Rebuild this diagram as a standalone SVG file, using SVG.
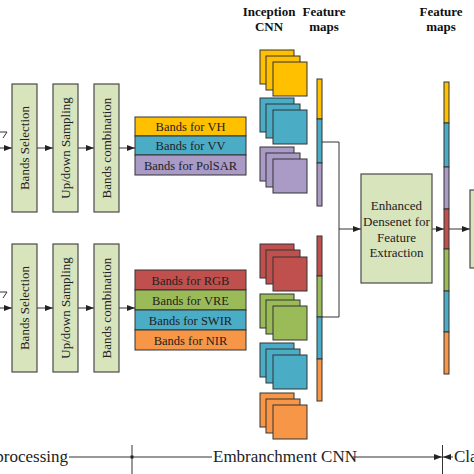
<svg xmlns="http://www.w3.org/2000/svg" width="474" height="474" viewBox="0 0 474 474">
<style>
.box{fill:#D8E4BC;stroke:#4a4a4a;stroke-width:1.2}
.t{font-family:"Liberation Serif","Times New Roman","DejaVu Serif",serif;fill:#222}
.h{font-family:"Liberation Serif","Times New Roman","DejaVu Serif",serif;font-weight:bold;font-size:13px;fill:#111;text-anchor:middle}
.c{stroke:#333;stroke-width:1;fill:none}
.sq{stroke:#333;stroke-width:1}
.y{fill:#FFC000}.b{fill:#4BACC6}.p{fill:#A99BC6}.r{fill:#C0504D}.g{fill:#9BBB59}.o{fill:#F79646}
</style>
<defs>
<marker id="ah" markerWidth="8" markerHeight="6" refX="8" refY="3" orient="auto" markerUnits="userSpaceOnUse">
<path d="M0,0 L8,3 L0,6 z" fill="#222"/>
</marker>
</defs>
<rect width="474" height="474" fill="#fff"/>

<g id="headers" font-family="Liberation Serif, Times New Roman, DejaVu Serif, serif">
<text class="h" x="269" y="16">Inception</text>
<text class="h" x="269" y="31">CNN</text>
<text class="h" x="324" y="16">Feature</text>
<text class="h" x="324" y="31">maps</text>
<text class="h" x="441" y="16">Feature</text>
<text class="h" x="441" y="31">maps</text>
</g>

<g id="connectors">
<path class="c" d="M0,132 L7,132 L3,138"/>
<path class="c" d="M0,292 L7,292 L3,298"/>
<line class="c" x1="0" y1="148" x2="12" y2="148" marker-end="url(#ah)"/>
<line class="c" x1="37" y1="148" x2="53" y2="148" marker-end="url(#ah)"/>
<line class="c" x1="78" y1="148" x2="94" y2="148" marker-end="url(#ah)"/>
<line class="c" x1="119" y1="148" x2="135" y2="148" marker-end="url(#ah)"/>
<line class="c" x1="0" y1="308" x2="12" y2="308" marker-end="url(#ah)"/>
<line class="c" x1="37" y1="308" x2="53" y2="308" marker-end="url(#ah)"/>
<line class="c" x1="78" y1="308" x2="94" y2="308" marker-end="url(#ah)"/>
<line class="c" x1="119" y1="308" x2="135" y2="308" marker-end="url(#ah)"/>
<path class="c" d="M322,142 H339 V317 H322"/>
<line class="c" x1="339" y1="229" x2="361" y2="229" marker-end="url(#ah)"/>
<line class="c" x1="432" y1="229" x2="444" y2="229" marker-end="url(#ah)"/>
<line class="c" x1="449" y1="229" x2="470" y2="229" marker-end="url(#ah)"/>
</g>

<g font-family="Liberation Serif, Times New Roman, DejaVu Serif, serif">
<g id="bands-selection-1"><rect class="box" x="12" y="84" width="25" height="128"/><text class="t" font-size="13" text-anchor="middle" transform="translate(29,148) rotate(-90)">Bands Selection</text></g>
<g id="updown-1"><rect class="box" x="53" y="84" width="25" height="128"/><text class="t" font-size="13" text-anchor="middle" transform="translate(70,148) rotate(-90)">Up/down Sampling</text></g>
<g id="combination-1"><rect class="box" x="94" y="84" width="25" height="128"/><text class="t" font-size="13" text-anchor="middle" transform="translate(111,148) rotate(-90)">Bands combination</text></g>

<g id="bands-selection-2"><rect class="box" x="12" y="244" width="25" height="128"/><text class="t" font-size="13" text-anchor="middle" transform="translate(29,308) rotate(-90)">Bands Selection</text></g>
<g id="updown-2"><rect class="box" x="53" y="244" width="25" height="128"/><text class="t" font-size="13" text-anchor="middle" transform="translate(70,308) rotate(-90)">Up/down Sampling</text></g>
<g id="combination-2"><rect class="box" x="94" y="244" width="25" height="128"/><text class="t" font-size="13" text-anchor="middle" transform="translate(111,308) rotate(-90)">Bands combination</text></g>

<g id="sar-bands" font-size="12.5">
<rect class="sq y" x="135" y="117" width="111" height="19"/>
<rect class="sq b" x="135" y="136" width="111" height="19"/>
<rect class="sq p" x="135" y="155" width="111" height="20"/>
<text class="t" x="190.5" y="131" text-anchor="middle">Bands for VH</text>
<text class="t" x="190.5" y="150" text-anchor="middle">Bands for VV</text>
<text class="t" x="190.5" y="169.5" text-anchor="middle">Bands for PolSAR</text>
</g>

<g id="opt-bands" font-size="12.5">
<rect class="sq r" x="135" y="270" width="111" height="20"/>
<rect class="sq g" x="135" y="290" width="111" height="20"/>
<rect class="sq b" x="135" y="310" width="111" height="20"/>
<rect class="sq o" x="135" y="330" width="111" height="20"/>
<text class="t" x="190.5" y="284.5" text-anchor="middle">Bands for RGB</text>
<text class="t" x="190.5" y="304.5" text-anchor="middle">Bands for VRE</text>
<text class="t" x="190.5" y="324.5" text-anchor="middle">Bands for SWIR</text>
<text class="t" x="190.5" y="344.5" text-anchor="middle">Bands for NIR</text>
</g>
</g>

<g id="inception-sar">
<rect class="sq y" x="260" y="50" width="34" height="34"/><rect class="sq y" x="266" y="56" width="34" height="34"/><rect class="sq y" x="273" y="62" width="34" height="34"/>
<rect class="sq b" x="260" y="98" width="34" height="34"/><rect class="sq b" x="266" y="104" width="34" height="34"/><rect class="sq b" x="273" y="110" width="34" height="34"/>
<rect class="sq p" x="260" y="147" width="34" height="34"/><rect class="sq p" x="266" y="153" width="34" height="34"/><rect class="sq p" x="273" y="159" width="34" height="34"/>
</g>

<g id="inception-opt">
<rect class="sq r" x="260" y="244" width="34" height="34"/><rect class="sq r" x="266" y="250" width="34" height="34"/><rect class="sq r" x="273" y="257" width="34" height="34"/>
<rect class="sq g" x="260" y="294" width="34" height="34"/><rect class="sq g" x="266" y="300" width="34" height="34"/><rect class="sq g" x="273" y="306" width="34" height="34"/>
<rect class="sq b" x="260" y="343" width="34" height="34"/><rect class="sq b" x="266" y="349" width="34" height="34"/><rect class="sq b" x="273" y="355" width="34" height="34"/>
<rect class="sq o" x="260" y="393" width="34" height="34"/><rect class="sq o" x="266" y="399" width="34" height="34"/><rect class="sq o" x="273" y="405" width="34" height="34"/>
</g>

<g id="fmap-sar">
<rect class="sq y" x="317" y="79" width="5" height="40"/>
<rect class="sq b" x="317" y="119" width="5" height="44"/>
<rect class="sq p" x="317" y="163" width="5" height="43"/>
</g>
<g id="fmap-opt">
<rect class="sq r" x="317" y="236" width="5" height="40"/>
<rect class="sq g" x="317" y="276" width="5" height="41"/>
<rect class="sq b" x="317" y="317" width="5" height="42"/>
<rect class="sq o" x="317" y="359" width="5" height="42"/>
</g>

<g id="densenet" font-family="Liberation Serif, Times New Roman, DejaVu Serif, serif">
<rect class="box" x="361" y="174" width="71" height="109"/>
<text class="t" font-size="13" text-anchor="middle" x="396.5" y="210">Enhanced</text>
<text class="t" font-size="13" text-anchor="middle" x="396.5" y="226">Densenet for</text>
<text class="t" font-size="13" text-anchor="middle" x="396.5" y="242">Feature</text>
<text class="t" font-size="13" text-anchor="middle" x="396.5" y="257">Extraction</text>
</g>

<g id="fmap-all">
<rect class="sq y" x="444" y="82" width="5" height="41"/>
<rect class="sq b" x="444" y="123" width="5" height="44"/>
<rect class="sq p" x="444" y="167" width="5" height="42"/>
<rect class="sq r" x="444" y="209" width="5" height="40"/>
<rect class="sq g" x="444" y="249" width="5" height="42"/>
<rect class="sq b" x="444" y="291" width="5" height="41"/>
<rect class="sq o" x="444" y="332" width="5" height="42"/>
</g>

<g id="classifier"><rect class="box" x="470" y="190" width="20" height="78"/></g>

<g id="stages" font-family="Liberation Serif, Times New Roman, DejaVu Serif, serif">
<text class="t" font-size="17" x="68" y="462" text-anchor="end">Preprocessing</text>
<line class="c" x1="69" y1="457" x2="131" y2="457"/>
<line class="c" x1="132" y1="445" x2="132" y2="474"/>
<rect x="130.5" y="455.5" width="3" height="3" fill="#222"/>
<line class="c" x1="133" y1="457" x2="212" y2="457"/>
<text class="t" font-size="17" x="213" y="462">Embranchment CNN</text>
<line class="c" x1="353" y1="457" x2="442" y2="457" marker-end="url(#ah)"/>
<line class="c" x1="442.5" y1="445" x2="442.5" y2="474"/>
<line class="c" x1="453" y1="457" x2="443" y2="457" marker-end="url(#ah)"/>
<text class="t" font-size="17" x="454" y="462">Classification</text>
</g>
</svg>
